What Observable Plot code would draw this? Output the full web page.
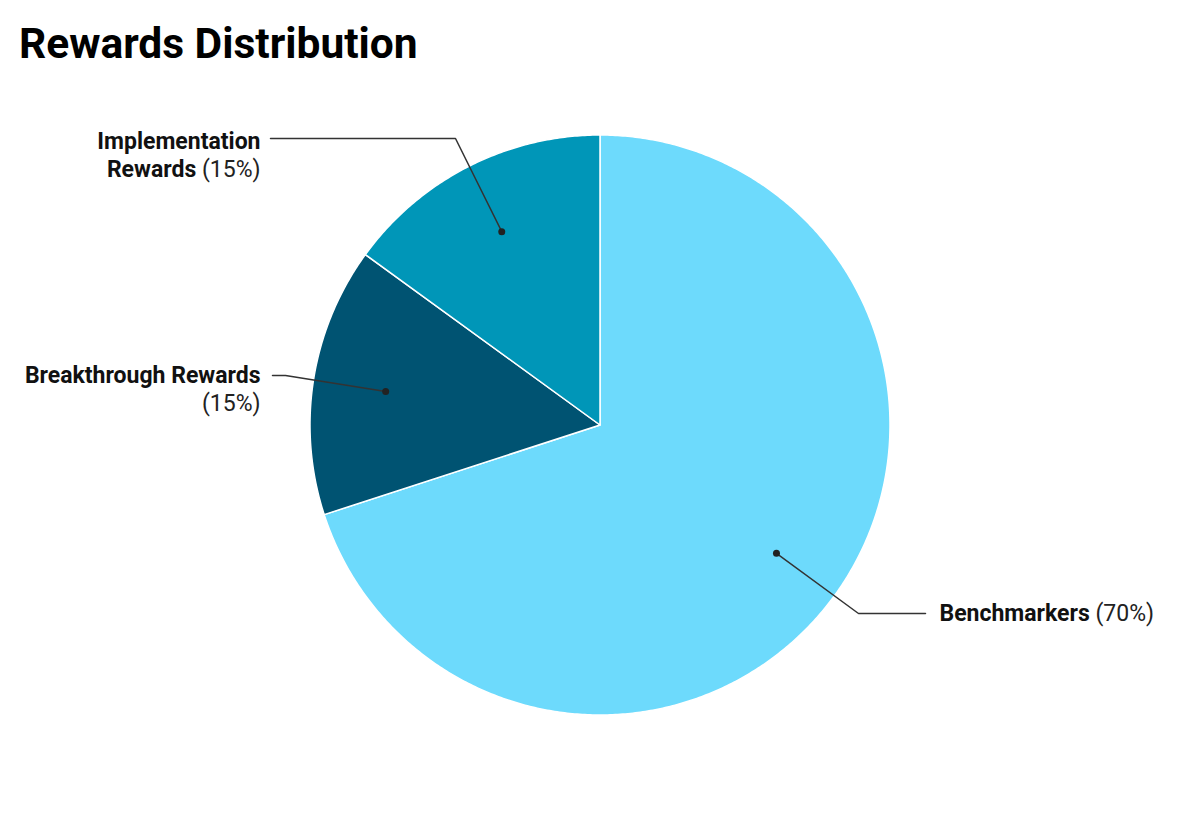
<!DOCTYPE html>
<html>
<head>
<meta charset="utf-8">
<script src="https://cdn.jsdelivr.net/npm/d3@7"></script>
<script src="https://cdn.jsdelivr.net/npm/@observablehq/plot@0.6"></script>
<style>
  html, body { margin: 0; padding: 0; background: #fff; }
  body { width: 1200px; height: 828px; overflow: hidden; font-family: Roboto, sans-serif; }
  #title { height: 80px; box-sizing: border-box; padding: 23px 0 0 19px; margin: 0;
           font: 700 42.5px/42px Roboto, sans-serif; color: #000; }
  #chart svg { display: block; }
</style>
</head>
<body>
<h1 id="title">Rewards Distribution</h1>
<div id="chart"></div>
<script>
// ---- data ----
const categories = ["Benchmarkers", "Breakthrough Rewards", "Implementation Rewards"];
const values = [70, 15, 15];
const colors = ["#6DDAFC", "#005372", "#0096B8"];

// ---- label layout (pixels relative to pie centre, y up) ----
const labelLayout = {
  "Implementation Rewards": { elbow: [-145, 287], lineEnd: [-330, 287], anchor: "end", tx: -340, ty: 284,
                              lines: [[["Implementation", true]], [["Rewards", true], ["%", false]]] },
  "Breakthrough Rewards":   { elbow: [-315, 50], lineEnd: [-328, 50], anchor: "end", tx: -340, ty: 50,
                              lines: [[["Breakthrough Rewards", true]], [["%", false]]] },
  "Benchmarkers":           { elbow: [258, -188], lineEnd: [325, -188], anchor: "start", tx: 339, ty: -188,
                              lines: [[["Benchmarkers", true], ["%", false]]] }
};

const R = 290, CX = 600, CY = 345, W = 1200, H = 748;
const FONT = "Roboto, sans-serif", FS = 23, LH = 28;

// text measurement
const ctx = document.createElement("canvas").getContext("2d");
function tw(t, bold) { ctx.font = `${bold ? "700" : "400"} ${FS}px Roboto`; return ctx.measureText(t).width; }

// ---- geometry from data ----
const total = d3.sum(values);
let acc = 0;
const slices = categories.map((c, i) => {
  const a0 = acc / total * 2 * Math.PI; acc += values[i];
  const a1 = acc / total * 2 * Math.PI;
  return { cat: c, value: values[i], a0, a1, mid: (a0 + a1) / 2 };
});
const arcPts = [];
for (const s of slices) {
  const n = Math.max(2, Math.ceil((s.a1 - s.a0) / (Math.PI / 360)));
  for (let k = 0; k <= n; k++) {
    const a = s.a0 + (s.a1 - s.a0) * k / n;
    arcPts.push({ cat: s.cat, x: R * Math.sin(a), y: R * Math.cos(a) });
  }
}
const dots = slices.map(s => ({ cat: s.cat, x: 0.75 * R * Math.sin(s.mid), y: 0.75 * R * Math.cos(s.mid) }));
const leaders = [];
for (const s of slices) {
  const L = labelLayout[s.cat], d = dots.find(p => p.cat === s.cat);
  leaders.push({ cat: s.cat, x: d.x, y: d.y }, { cat: s.cat, x: L.elbow[0], y: L.elbow[1] },
               { cat: s.cat, x: L.lineEnd[0], y: L.lineEnd[1] });
}
const texts = [];
for (const s of slices) {
  const L = labelLayout[s.cat];
  L.lines.forEach((line, li) => {
    const segs = line.map(([t, b]) => ({ t: t === "%" ? `(${s.value}%)` : t, b }));
    const space = tw(" ", false);
    const widths = segs.map(g => tw(g.t, g.b));
    const total = d3.sum(widths) + space * (segs.length - 1);
    let x = L.anchor === "end" ? L.tx - total : L.tx;
    segs.forEach((g, gi) => {
      texts.push({ x, y: L.ty - li * LH, text: g.t, bold: g.b });
      x += widths[gi] + space;
    });
  });
}

const chart = Plot.plot({
  width: W, height: H,
  marginTop: 0, marginRight: 0, marginBottom: 0, marginLeft: 0,
  x: { domain: [-R, R], range: [CX - R, CX + R], axis: null },
  y: { domain: [-R, R], range: [CY + R, CY - R], axis: null },
  color: { domain: categories, range: colors },
  style: { fontFamily: FONT, background: "white" },
  marks: [
    Plot.area(arcPts, { x1: "x", y1: "y", x2: () => 0, y2: () => 0, z: "cat", fill: "cat",
                        stroke: "white", strokeWidth: 1.5, strokeLinejoin: "round", curve: "linear" }),
    Plot.line(leaders, { x: "x", y: "y", z: "cat", stroke: "#333", strokeWidth: 1.5, curve: "linear" }),
    Plot.dot(dots, { x: "x", y: "y", r: 3.5, fill: "#222", stroke: null }),
    Plot.text(texts.filter(t => t.bold), { x: "x", y: "y", text: "text", textAnchor: "start",
                                            fontSize: FS, fontWeight: 700, fill: "#111" }),
    Plot.text(texts.filter(t => !t.bold), { x: "x", y: "y", text: "text", textAnchor: "start",
                                             fontSize: FS, fontWeight: 400, fill: "#222" })
  ]
});
document.getElementById("chart").append(chart);
</script>
</body>
</html>
